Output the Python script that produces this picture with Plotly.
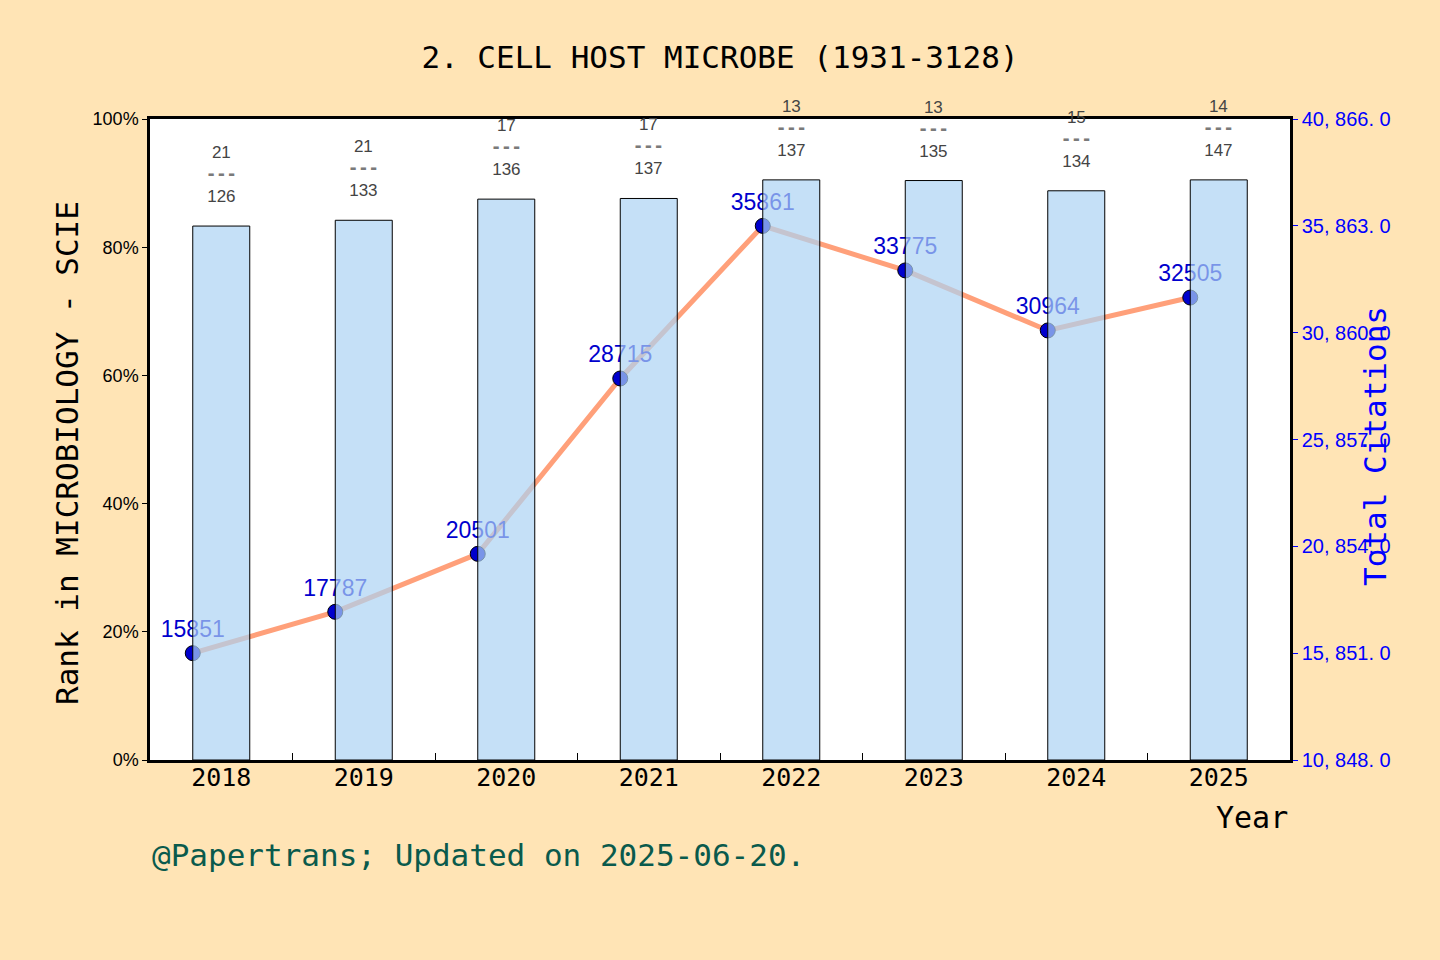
import plotly.graph_objects as go

# data
years = ["2018", "2019", "2020", "2021", "2022", "2023", "2024", "2025"]
rank = [21, 21, 17, 17, 13, 13, 15, 14]
total = [126, 133, 136, 137, 137, 135, 134, 147]
percentile = [83.3, 84.2, 87.5, 87.6, 90.5, 90.4, 88.8, 90.5]
citations = [15851, 17787, 20501, 28715, 35861, 33775, 30964, 32505]
cite_ticks = [10848, 15851, 20854, 25857, 30860, 35863, 40866]
cite_ticktext = ["10, 848. 0", "15, 851. 0", "20, 854. 0", "25, 857. 0",
                 "30, 860. 0", "35, 863. 0", "40, 866. 0"]

pos = list(range(len(years)))
line_pos = [p - 0.2 for p in pos]  # line points sit on the bars' left edges

mono = "DejaVu Sans Mono"
sans = "Liberation Sans"

fig = go.Figure()

# line first (primary y, right side) so the translucent bars cover it
fig.add_trace(go.Scatter(
    x=line_pos, y=citations, yaxis="y",
    mode="lines+markers+text",
    line=dict(color="lightsalmon", width=5),
    marker=dict(size=15, color="mediumblue", line=dict(color="black", width=1)),
    text=[str(c) for c in citations],
    textposition="top center",
    textfont=dict(family=sans, size=23, color="mediumblue"),
    cliponaxis=False,
    showlegend=False,
))

fig.add_trace(go.Bar(
    x=pos, y=percentile, yaxis="y2",
    width=0.4,
    marker=dict(color="rgba(172,211,244,0.7)", line=dict(color="black", width=1)),
    showlegend=False,
))

annotations = []
for p, r, t, v in zip(pos, rank, total, percentile):
    annotations.append(dict(
        x=p, y=v, xref="x", yref="y2",
        text=(f"{r}<br><span style='color:#7a7a7a;font-family:DejaVu Sans Mono;"
              f"font-weight:bold'>---</span><br>{t}"),
        showarrow=False, yanchor="bottom", yshift=18,
        font=dict(family=sans, size=17, color="#444444"),
    ))

annotations += [
    dict(text="Rank in MICROBIOLOGY - SCIE", xref="paper", yref="paper",
         x=-0.0728, y=0.479, xanchor="center", yanchor="middle",
         textangle=-90, showarrow=False,
         font=dict(family=mono, size=31, color="black")),
    dict(text="Total Citations", xref="paper", yref="paper",
         x=1.0746, y=0.49, xanchor="center", yanchor="middle",
         textangle=-90, showarrow=False,
         font=dict(family=mono, size=31, color="blue")),
    dict(text="Year", xref="paper", yref="paper", x=1.0, y=-0.089,
         xanchor="right", yanchor="middle", showarrow=False,
         font=dict(family=mono, size=30, color="black")),
    dict(text="@Papertrans; Updated on 2025-06-20.", xref="paper", yref="paper",
         x=0.0, y=-0.148, xanchor="left", yanchor="middle", showarrow=False,
         font=dict(family=mono, size=31, color="#0a5a4c")),
]

fig.update_layout(
    width=1440, height=960,
    margin=dict(l=150, r=150, t=119, b=200),
    paper_bgcolor="#ffe4b5",
    plot_bgcolor="white",
    title=dict(text="2. CELL HOST MICROBE (1931-3128)", x=0.5, xanchor="center",
               y=1 - 57 / 960, yanchor="middle",
               font=dict(family=mono, size=31, color="black")),
    xaxis=dict(
        range=[-0.5, 7.5], tickvals=pos, ticktext=years, ticks="",
        ticklabelstandoff=-7,
        showgrid=False, zeroline=False,
        showline=True, linecolor="black", linewidth=2.5, mirror=True,
        tickfont=dict(family=mono, size=25, color="black"),
        minor=dict(tickvals=[p + 0.5 for p in pos[:-1]], ticks="inside",
                   ticklen=7, tickcolor="black", tickwidth=1, showgrid=False),
    ),
    yaxis=dict(
        side="right", range=[10848, 40866],
        tickvals=cite_ticks, ticktext=cite_ticktext,
        ticks="outside", ticklen=5, tickcolor="blue",
        showgrid=False, zeroline=False,
        showline=True, linecolor="black", linewidth=2.5,
        tickfont=dict(family=sans, size=20, color="blue"),
    ),
    yaxis2=dict(
        overlaying="y", side="left", range=[0, 100],
        tickvals=[0, 20, 40, 60, 80, 100],
        ticktext=["0%", "20%", "40%", "60%", "80%", "100%"],
        ticks="outside", ticklen=5, tickcolor="black",
        showgrid=False, zeroline=False,
        showline=True, linecolor="black", linewidth=2.5,
        tickfont=dict(family=sans, size=18, color="black"),
    ),
    annotations=annotations,
)

fig.write_html("out.html", config={"displayModeBar": False},
               post_script="document.body.style.margin='0';")
